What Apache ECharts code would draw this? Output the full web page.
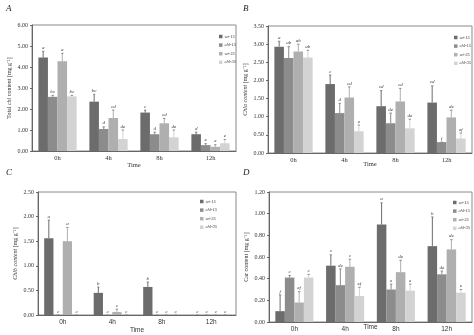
<!DOCTYPE html>
<html>
<head>
<meta charset="utf-8">
<script src="https://cdn.jsdelivr.net/npm/echarts@6/dist/echarts.min.js"></script>
<style>
  html, body { margin: 0; padding: 0; background: #fff; }
  #chart { width: 474px; height: 335px; }
</style>
</head>
<body>
<div id="chart"></div>
<script>
// Pigment content of wt / chl lines at 15 and 35 over time
const categories = ['0h', '4h', '8h', '12h'];
const seriesNames = ['wt-15', 'chl-15', 'wt-35', 'chl-35'];
const barColors = ['#6c6c6c', '#8c8c8c', '#afafaf', '#d3d3d3'];

// Panel A: total chl (means, SD, letters) — rows follow seriesNames
const totalMean = [[4.45, 2.35, 1.83, 0.80], [2.58, 1.05, 0.80, 0.28], [4.27, 1.57, 1.32, 0.20], [2.60, 0.57, 0.65, 0.37]];
const totalErr = [[0.30, 0.35, 0.12, 0.10], [0.07, 0.10, 0.10, 0.07], [0.38, 0.38, 0.23, 0.10], [0.05, 0.43, 0.35, 0.18]];
const totalSig = [['a', 'bc', 'c', 'd'], ['bc', 'd', 'd', 'e'], ['a', 'cd', 'cd', 'e'], ['bc', 'de', 'de', 'e']];

// Panel B: Chla
const chlaMean = [[2.93, 1.90, 1.29, 1.39], [2.62, 1.10, 0.82, 0.30], [2.80, 1.53, 1.42, 0.98], [2.63, 0.60, 0.68, 0.40]];
const chlaErr = [[0.15, 0.25, 0.43, 0.46], [0.31, 0.27, 0.28, 0.00], [0.20, 0.29, 0.36, 0.20], [0.20, 0.17, 0.25, 0.15]];
const chlaSig = [['a', 'c', 'cd', 'cd'], ['ab', 'd', 'de', 'f'], ['ab', 'cd', 'cd', 'de'], ['ab', 'e', 'de', 'ef']];

// Panel C: Chlb
const chlbMean = [[1.56, 0.45, 0.57, 0], [0, 0, 0, 0], [1.50, 0.06, 0, 0], [0, 0, 0, 0]];
const chlbErr = [[0.37, 0.12, 0.10, 0], [0, 0, 0, 0], [0.28, 0.06, 0, 0], [0, 0, 0, 0]];
const chlbSig = [['a', 'b', 'b', 'c'], ['c', 'c', 'c', 'c'], ['a', 'c', 'c', 'c'], ['c', 'c', 'c', 'c']];

// Panel D: Car
const carMean = [[0.10, 0.52, 0.90, 0.70], [0.41, 0.34, 0.30, 0.44], [0.18, 0.51, 0.46, 0.67], [0.41, 0.24, 0.29, 0.27]];
const carErr = [[0.15, 0.10, 0.20, 0.27], [0.02, 0.15, 0.05, 0.03], [0.10, 0.07, 0.11, 0.09], [0.03, 0.08, 0.06, 0.03]];
const carSig = [['f', 'c', 'a', 'b'], ['c', 'de', 'e', 'de'], ['ef', 'c', 'de', 'de'], ['c', 'ef', 'e', 'e']];

// y-axis ranges
const yMax = [6, 3.5, 2.5, 1.2];
const yStep = [1, 0.5, 0.5, 0.2];

const SERIF = 'Liberation Serif';
const SANS = 'Liberation Sans';
const CAT_GAP = 0.25;

const panels = [
  { mean: totalMean, err: totalErr, sig: totalSig, grid: { left: 32, top: 25, width: 204, height: 126 },
    yName: '{n|Total }{i|chl}{n| content [mg g⁻¹]}', xGap: 11, xFont: SERIF, legend: { left: 214, top: 29 }, tag: 'A', tagPos: [6, 4] },
  { mean: chlaMean, err: chlaErr, sig: chlaSig, grid: { left: 268, top: 26, width: 204, height: 127 },
    yName: '{i|Chla content }{n|[mg g⁻¹]}', xGap: 8, xFont: SERIF, legend: { left: 449, top: 30 }, tag: 'B', tagPos: [243, 4] },
  { mean: chlbMean, err: chlbErr, sig: chlbSig, grid: { left: 38, top: 192, width: 198, height: 127 },
    yName: '{i|Chlb content }{n|[mg g⁻¹]}', xGap: 12, xFont: SANS, legend: { left: 195, top: 194 }, tag: 'C', tagPos: [6, 168] },
  { mean: carMean, err: carErr, sig: carSig, grid: { left: 269, top: 192, width: 203, height: 130 },
    yName: '{n|Car content [mg g⁻¹]}', xGap: 2, xFont: SANS, legend: { left: 448, top: 195 }, tag: 'D', tagPos: [243, 168] }
];

function errorRenderer(panel, s) {
  return function (params, api) {
    const ci = api.value(0);
    const v = api.value(1);
    const e = api.value(2);
    const band = api.size([1, 0])[0];
    const groupW = band * (1 - CAT_GAP);
    const bw = groupW / 4;
    const off = -groupW / 2 + bw * (s + 0.5);
    const p0 = api.coord([ci, v]);
    const p1 = api.coord([ci, v + e]);
    const x = p0[0] + off;
    const children = [];
    if (e > 0) {
      children.push({ type: 'line', shape: { x1: x, y1: p0[1], x2: x, y2: p1[1] },
        style: { stroke: barColors[s], lineWidth: 1 } });
    }
    children.push({ type: 'line', shape: { x1: x - 1.2, y1: p1[1], x2: x + 1.2, y2: p1[1] },
      style: { stroke: '#777', lineWidth: 0.8 } });
    children.push({ type: 'text', style: {
      x: x, y: p1[1] - 1.2, text: panel.sig[s][params.dataIndex],
      textAlign: 'center', textVerticalAlign: 'bottom',
      font: 'italic 5px ' + SERIF, fill: '#333' } });
    return { type: 'group', children: children };
  };
}

const grids = [], xAxes = [], yAxes = [], series = [], legends = [], graphics = [];

panels.forEach((p, k) => {
  grids.push(Object.assign({ show: true, borderColor: '#8a8a8a', borderWidth: 1, backgroundColor: 'transparent' }, p.grid));
  xAxes.push({
    type: 'category', gridIndex: k, data: categories,
    name: 'Time', nameLocation: 'middle', nameGap: p.xGap, nameMoveOverlap: false,
    nameTextStyle: { fontFamily: p.xFont, fontSize: 6.5, color: '#333' },
    axisLine: { lineStyle: { color: '#666' } },
    axisTick: { show: false },
    axisLabel: { fontFamily: p.xFont, fontSize: 6.5, color: '#333', margin: 4 }
  });
  yAxes.push({
    type: 'value', gridIndex: k, min: 0, max: yMax[k], interval: yStep[k],
    name: p.yName, nameLocation: 'middle', nameRotate: 90, nameGap: 20, nameMoveOverlap: false,
    nameTextStyle: { rich: {
      n: { fontFamily: SERIF, fontSize: 6, color: '#333' },
      i: { fontFamily: SERIF, fontSize: 6, fontStyle: 'italic', color: '#333' } } },
    axisLine: { show: true, lineStyle: { color: '#666' } },
    axisTick: { show: true, length: 2, lineStyle: { color: '#666' } },
    splitLine: { show: false },
    axisLabel: { fontFamily: SERIF, fontSize: 6, color: '#333', margin: 4,
      formatter: v => v.toFixed(2) }
  });
  seriesNames.forEach((name, s) => {
    series.push({
      type: 'bar', name: name, xAxisIndex: k, yAxisIndex: k,
      data: p.mean[s], barGap: '0%', barCategoryGap: (CAT_GAP * 100) + '%',
      itemStyle: { color: barColors[s] }, silent: true, animation: false
    });
  });
  seriesNames.forEach((name, s) => {
    series.push({
      type: 'custom', name: name, xAxisIndex: k, yAxisIndex: k,
      data: p.mean[s].map((v, i) => [i, v, p.err[s][i]]),
      renderItem: errorRenderer(p, s), silent: true, animation: false, z: 5
    });
  });
  legends.push({
    orient: 'vertical', left: p.legend.left, top: p.legend.top,
    data: seriesNames, itemWidth: 3.5, itemHeight: 3.5, itemGap: 3.6,
    icon: 'rect', selectedMode: false,
    textStyle: { fontFamily: SERIF, fontStyle: 'italic', fontSize: 4.5, color: '#333', padding: [0, 0, 0, -3] }
  });
  graphics.push({ type: 'text', left: p.tagPos[0], top: p.tagPos[1],
    style: { text: p.tag, font: 'italic 9px ' + SERIF, fill: '#222' } });
});

const chart = echarts.init(document.getElementById('chart'), null, { renderer: 'canvas' });
chart.setOption({
  animation: false,
  backgroundColor: '#fff',
  grid: grids, xAxis: xAxes, yAxis: yAxes, series: series, legend: legends, graphic: graphics
});
</script>
</body>
</html>
